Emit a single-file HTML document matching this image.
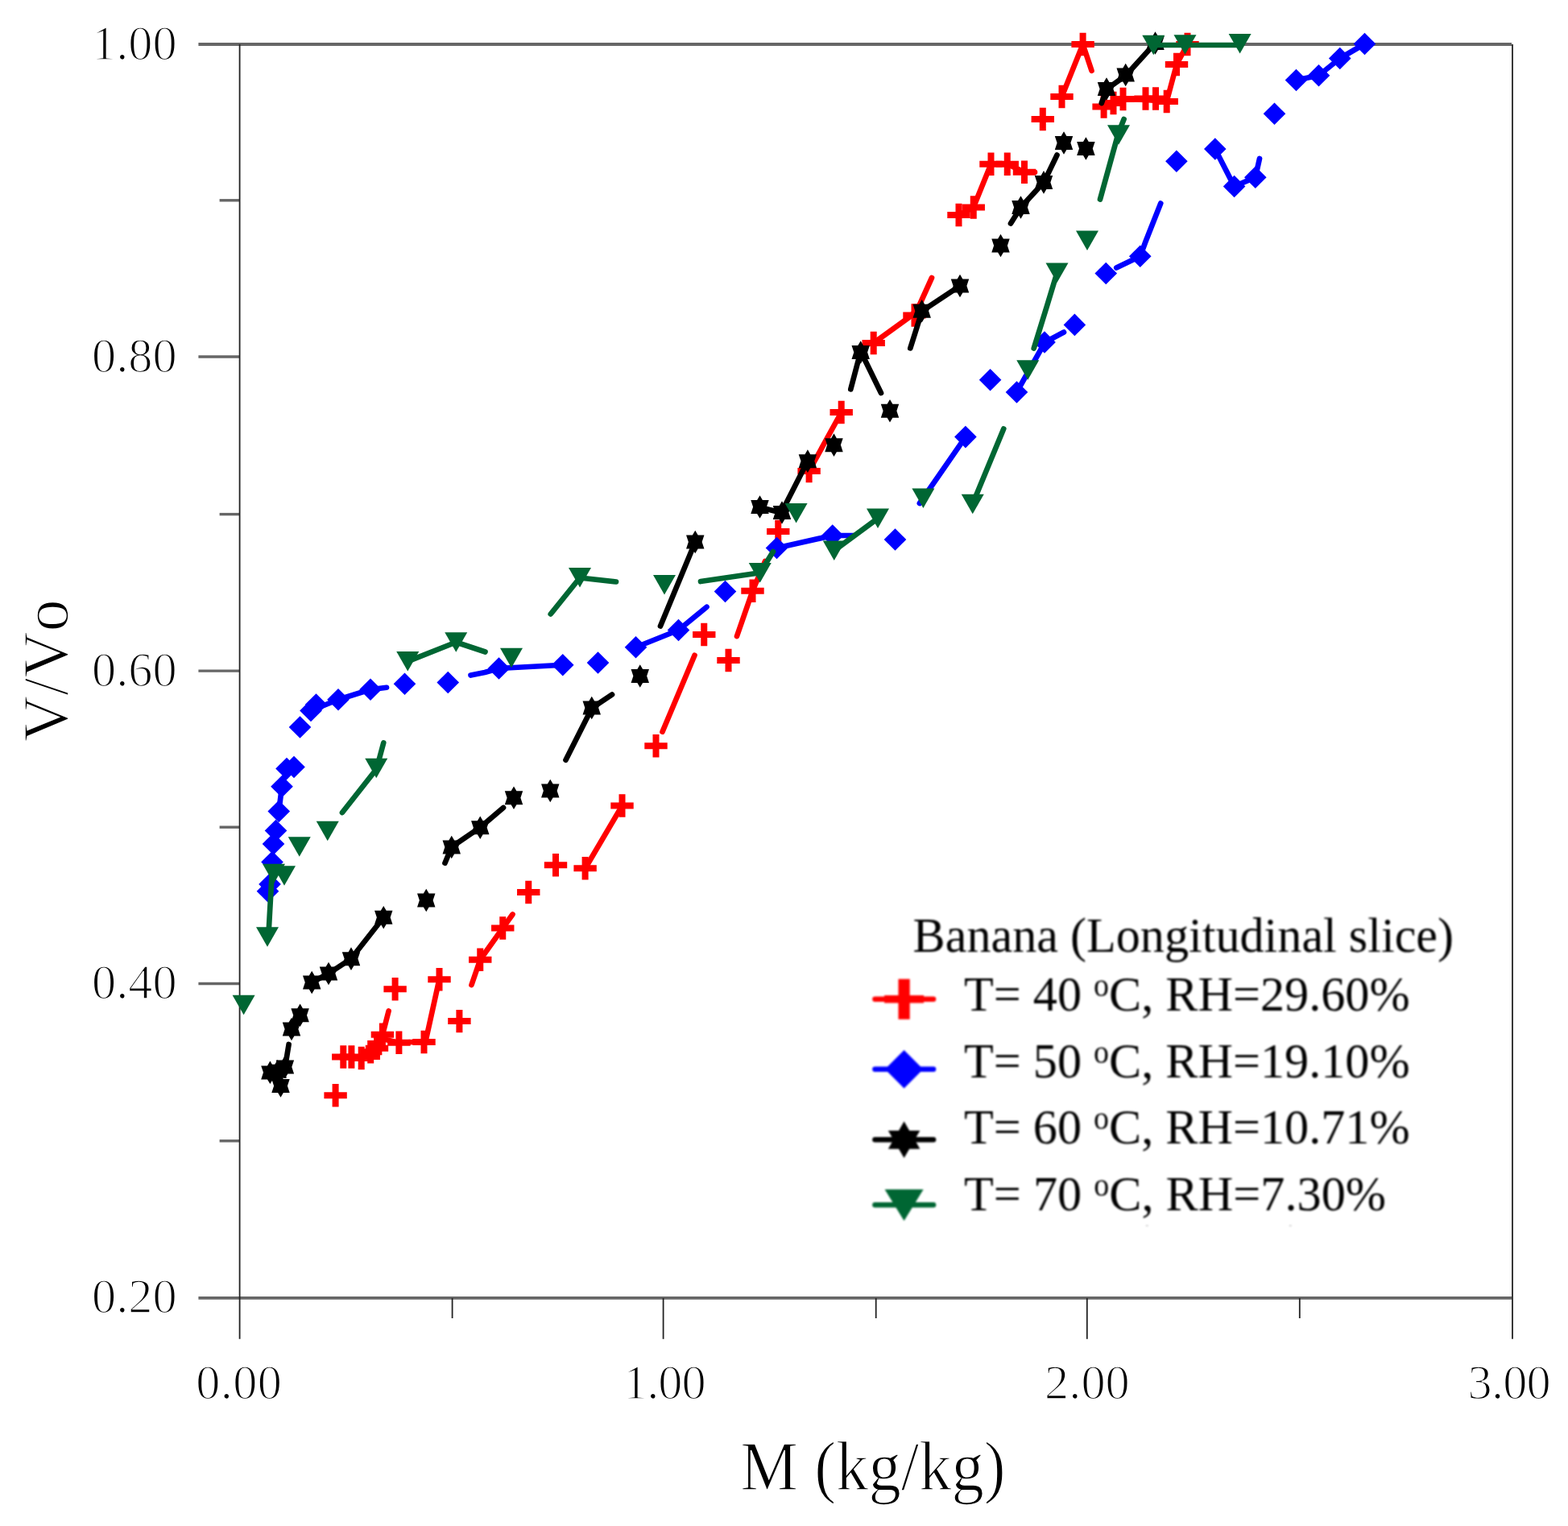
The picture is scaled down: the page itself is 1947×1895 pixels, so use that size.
<!DOCTYPE html>
<html lang="en"><head><meta charset="utf-8"><title>Banana (Longitudinal slice)</title>
<style>html,body{margin:0;padding:0;background:#fff}body{width:1947px;height:1895px;overflow:hidden}svg{display:block}text{font-family:"Liberation Serif","DejaVu Serif",serif;fill:#000}</style>
</head><body>
<svg width="1947" height="1895" viewBox="0 0 1947 1895">
<rect width="1947" height="1895" fill="#fff"/>
<g id="axes" fill="none">
<line x1="246.4" y1="55" x2="1877" y2="55" stroke="#666666" stroke-width="4"/>
<line x1="246.4" y1="1611.8" x2="1877" y2="1611.8" stroke="#666666" stroke-width="3.7"/>
<line x1="246.4" y1="443" x2="297" y2="443" stroke="#666666" stroke-width="3.4"/>
<line x1="246.4" y1="833.1" x2="297" y2="833.1" stroke="#666666" stroke-width="3.4"/>
<line x1="246.4" y1="1221.5" x2="297" y2="1221.5" stroke="#666666" stroke-width="3.4"/>
<line x1="272.6" y1="248.8" x2="297" y2="248.8" stroke="#666666" stroke-width="3.4"/>
<line x1="272.6" y1="638.6" x2="297" y2="638.6" stroke="#666666" stroke-width="3.4"/>
<line x1="272.6" y1="1027.2" x2="297" y2="1027.2" stroke="#666666" stroke-width="3.4"/>
<line x1="272.6" y1="1416.8" x2="297" y2="1416.8" stroke="#666666" stroke-width="3.4"/>
<line x1="297.6" y1="55" x2="297.6" y2="1662.8" stroke="#222222" stroke-width="1.8"/>
<line x1="1878" y1="55" x2="1878" y2="1662.8" stroke="#222222" stroke-width="1.8"/>
<line x1="823.6" y1="1612" x2="823.6" y2="1662.8" stroke="#222222" stroke-width="1.8"/>
<line x1="1349.8" y1="1612" x2="1349.8" y2="1662.8" stroke="#222222" stroke-width="1.8"/>
<line x1="561.6" y1="1612" x2="561.6" y2="1637" stroke="#222222" stroke-width="1.8"/>
<line x1="1087.7" y1="1612" x2="1087.7" y2="1637" stroke="#222222" stroke-width="1.8"/>
<line x1="1613.8" y1="1612" x2="1613.8" y2="1637" stroke="#222222" stroke-width="1.8"/>
</g>
<g id="ticklabels" font-size="60.3" fill="#000" stroke="#fff" stroke-width="1.6">
<text x="219.6" y="73.5" text-anchor="end">1.00</text>
<text x="219.6" y="461.6" text-anchor="end">0.80</text>
<text x="219.6" y="851.7" text-anchor="end">0.60</text>
<text x="219.6" y="1240.1" text-anchor="end">0.40</text>
<text x="219.6" y="1630.4" text-anchor="end">0.20</text>
<text x="296.6" y="1737.2" text-anchor="middle" textLength="106.7">0.00</text>
<text x="825.3" y="1737.2" text-anchor="middle" textLength="102.5">1.00</text>
<text x="1349.9" y="1737.2" text-anchor="middle" textLength="105.7">2.00</text>
<text x="1874.1" y="1737.2" text-anchor="middle" textLength="103.1">3.00</text>
</g>
<text x="1084" y="1849.6" font-size="86" text-anchor="middle" textLength="329.4" lengthAdjust="spacingAndGlyphs" stroke="#fff" stroke-width="1.5">M (kg/kg)</text>
<text transform="translate(84 832.8) rotate(-90)" font-size="79.5" text-anchor="middle" style="font-kerning:none" stroke="#fff" stroke-width="1.6">V/Vo</text>
<g id="s40">
<g fill="none" stroke="#ff0000" stroke-width="6.7" stroke-linecap="round" stroke-linejoin="round">
<polyline points="426,1313 436.4,1313 448.7,1314 460,1306 468,1301 475,1285 482.6,1255.5"/>
<polyline points="475,1290 495.4,1295 528.5,1293 545.5,1216"/>
<polyline points="585.5,1223 596.25,1191.75 624.25,1152.5 636.5,1135.5"/>
<polyline points="726.75,1078.25 772.5,1000.5"/>
<polyline points="822.5,908.75 862.5,813.75"/>
<polyline points="915,790 934.5,733.75 950,697"/>
<polyline points="1044.7,512 1004.6,585"/>
<polyline points="1084.7,426 1131,392.5 1140,382.5 1157,345"/>
<polyline points="1190.5,267 1208.75,257.5 1230.5,203.75 1250.75,203.75 1272,213.75 1285,213.75"/>
<polyline points="1318.5,120 1344.6,55 1355.5,87.8"/>
<polyline points="1370.6,132.5 1394.5,123 1422.5,124 1448.7,126 1461,80 1474.5,55"/>
</g>
<path fill="#ff0000" d="M412.6 1346.1h8v10.2h10.2v8h-10.2v10.2h-8v-10.2h-10.2v-8h10.2z"/>
<path fill="#ff0000" d="M422.3 1298.3h8v10.2h10.2v8h-10.2v10.2h-8v-10.2h-10.2v-8h10.2z"/>
<path fill="#ff0000" d="M432.4 1298.3h8v10.2h10.2v8h-10.2v10.2h-8v-10.2h-10.2v-8h10.2z"/>
<path fill="#ff0000" d="M444.7 1299.8h8v10.2h10.2v8h-10.2v10.2h-8v-10.2h-10.2v-8h10.2z"/>
<path fill="#ff0000" d="M456.2 1292.1h8v10.2h10.2v8h-10.2v10.2h-8v-10.2h-10.2v-8h10.2z"/>
<path fill="#ff0000" d="M464 1287.5h8v10.2h10.2v8h-10.2v10.2h-8v-10.2h-10.2v-8h10.2z"/>
<path fill="#ff0000" d="M470.9 1270.6h8v10.2h10.2v8h-10.2v10.2h-8v-10.2h-10.2v-8h10.2z"/>
<path fill="#ff0000" d="M486.6 1214h8v10.2h10.2v8h-10.2v10.2h-8v-10.2h-10.2v-8h10.2z"/>
<path fill="#ff0000" d="M491.4 1280.6h8v10.2h10.2v8h-10.2v10.2h-8v-10.2h-10.2v-8h10.2z"/>
<path fill="#ff0000" d="M522.5 1279.8h8v10.2h10.2v8h-10.2v10.2h-8v-10.2h-10.2v-8h10.2z"/>
<path fill="#ff0000" d="M541.5 1202h8v10.2h10.2v8h-10.2v10.2h-8v-10.2h-10.2v-8h10.2z"/>
<path fill="#ff0000" d="M566.4 1253.9h8v10.2h10.2v8h-10.2v10.2h-8v-10.2h-10.2v-8h10.2z"/>
<path fill="#ff0000" d="M592.25 1177.55h8v10.2h10.2v8h-10.2v10.2h-8v-10.2h-10.2v-8h10.2z"/>
<path fill="#ff0000" d="M620.25 1138.3h8v10.2h10.2v8h-10.2v10.2h-8v-10.2h-10.2v-8h10.2z"/>
<path fill="#ff0000" d="M652.25 1093.8h8v10.2h10.2v8h-10.2v10.2h-8v-10.2h-10.2v-8h10.2z"/>
<path fill="#ff0000" d="M686 1060.05h8v10.2h10.2v8h-10.2v10.2h-8v-10.2h-10.2v-8h10.2z"/>
<path fill="#ff0000" d="M722.6 1064h8v10.2h10.2v8h-10.2v10.2h-8v-10.2h-10.2v-8h10.2z"/>
<path fill="#ff0000" d="M768.5 986.3h8v10.2h10.2v8h-10.2v10.2h-8v-10.2h-10.2v-8h10.2z"/>
<path fill="#ff0000" d="M810.5 912.05h8v10.2h10.2v8h-10.2v10.2h-8v-10.2h-10.2v-8h10.2z"/>
<path fill="#ff0000" d="M870.25 773.8h8v10.2h10.2v8h-10.2v10.2h-8v-10.2h-10.2v-8h10.2z"/>
<path fill="#ff0000" d="M900.5 805.8h8v10.2h10.2v8h-10.2v10.2h-8v-10.2h-10.2v-8h10.2z"/>
<path fill="#ff0000" d="M930.5 719.55h8v10.2h10.2v8h-10.2v10.2h-8v-10.2h-10.2v-8h10.2z"/>
<path fill="#ff0000" d="M962.25 645.8h8v10.2h10.2v8h-10.2v10.2h-8v-10.2h-10.2v-8h10.2z"/>
<path fill="#ff0000" d="M1000.6 570.8h8v10.2h10.2v8h-10.2v10.2h-8v-10.2h-10.2v-8h10.2z"/>
<path fill="#ff0000" d="M1040.7 497.8h8v10.2h10.2v8h-10.2v10.2h-8v-10.2h-10.2v-8h10.2z"/>
<path fill="#ff0000" d="M1080.7 411.8h8v10.2h10.2v8h-10.2v10.2h-8v-10.2h-10.2v-8h10.2z"/>
<path fill="#ff0000" d="M1131.5 377.3h8v10.2h10.2v8h-10.2v10.2h-8v-10.2h-10.2v-8h10.2z"/>
<path fill="#ff0000" d="M1186.5 252.8h8v10.2h10.2v8h-10.2v10.2h-8v-10.2h-10.2v-8h10.2z"/>
<path fill="#ff0000" d="M1204.75 243.3h8v10.2h10.2v8h-10.2v10.2h-8v-10.2h-10.2v-8h10.2z"/>
<path fill="#ff0000" d="M1226.5 189.55h8v10.2h10.2v8h-10.2v10.2h-8v-10.2h-10.2v-8h10.2z"/>
<path fill="#ff0000" d="M1246.75 189.55h8v10.2h10.2v8h-10.2v10.2h-8v-10.2h-10.2v-8h10.2z"/>
<path fill="#ff0000" d="M1268 199.55h8v10.2h10.2v8h-10.2v10.2h-8v-10.2h-10.2v-8h10.2z"/>
<path fill="#ff0000" d="M1290.8 133.8h8v10.2h10.2v8h-10.2v10.2h-8v-10.2h-10.2v-8h10.2z"/>
<path fill="#ff0000" d="M1314.5 105.8h8v10.2h10.2v8h-10.2v10.2h-8v-10.2h-10.2v-8h10.2z"/>
<path fill="#ff0000" d="M1340.6 40.8h8v10.2h10.2v8h-10.2v10.2h-8v-10.2h-10.2v-8h10.2z"/>
<path fill="#ff0000" d="M1366.6 118.3h8v10.2h10.2v8h-10.2v10.2h-8v-10.2h-10.2v-8h10.2z"/>
<path fill="#ff0000" d="M1378.5 113.8h8v10.2h10.2v8h-10.2v10.2h-8v-10.2h-10.2v-8h10.2z"/>
<path fill="#ff0000" d="M1390.5 108.8h8v10.2h10.2v8h-10.2v10.2h-8v-10.2h-10.2v-8h10.2z"/>
<path fill="#ff0000" d="M1418.5 108.3h8v10.2h10.2v8h-10.2v10.2h-8v-10.2h-10.2v-8h10.2z"/>
<path fill="#ff0000" d="M1431 108.3h8v10.2h10.2v8h-10.2v10.2h-8v-10.2h-10.2v-8h10.2z"/>
<path fill="#ff0000" d="M1444.7 111.8h8v10.2h10.2v8h-10.2v10.2h-8v-10.2h-10.2v-8h10.2z"/>
<path fill="#ff0000" d="M1457 65.8h8v10.2h10.2v8h-10.2v10.2h-8v-10.2h-10.2v-8h10.2z"/>
<path fill="#ff0000" d="M1470.5 40.8h8v10.2h10.2v8h-10.2v10.2h-8v-10.2h-10.2v-8h10.2z"/>
</g>
<g id="s50">
<g fill="none" stroke="#0000ff" stroke-width="6.7" stroke-linecap="round" stroke-linejoin="round">
<polyline points="356,954.5 350,977 346.25,1007.5"/>
<polyline points="386,882.5 420,868.75 460,856.25 480,853.75"/>
<polyline points="584.5,838.5 602,835 619.5,830 698.75,825.75"/>
<polyline points="789.5,803.75 842.5,782.5 877.5,753.75"/>
<polyline points="964.5,680.5 1033.75,665 1060,665"/>
<polyline points="1141.9,625 1198.9,542.6"/>
<polyline points="1262.5,487 1297.5,425 1321,412.5"/>
<polyline points="1386.25,332.5 1415.75,318.25 1422.5,300 1441.25,252.5"/>
<polyline points="1508.8,185 1532.6,231.5 1558.8,220.2 1564,197"/>
<polyline points="1609.5,99.5 1637.5,93.75 1663.75,72.5 1694.5,54.5"/>
</g>
<polygon fill="#0000ff" points="332.5,1092.95 346.3,1106.75 332.5,1120.55 318.7,1106.75"/>
<polygon fill="#0000ff" points="335,1084.2 348.8,1098 335,1111.8 321.2,1098"/>
<polygon fill="#0000ff" points="338,1056.7 351.8,1070.5 338,1084.3 324.2,1070.5"/>
<polygon fill="#0000ff" points="339.5,1034.2 353.3,1048 339.5,1061.8 325.7,1048"/>
<polygon fill="#0000ff" points="342.5,1017.7 356.3,1031.5 342.5,1045.3 328.7,1031.5"/>
<polygon fill="#0000ff" points="346.25,993.7 360.05,1007.5 346.25,1021.3 332.45,1007.5"/>
<polygon fill="#0000ff" points="350,962.95 363.8,976.75 350,990.55 336.2,976.75"/>
<polygon fill="#0000ff" points="356,940.7 369.8,954.5 356,968.3 342.2,954.5"/>
<polygon fill="#0000ff" points="365,938.7 378.8,952.5 365,966.3 351.2,952.5"/>
<polygon fill="#0000ff" points="372.5,889.2 386.3,903 372.5,916.8 358.7,903"/>
<polygon fill="#0000ff" points="386,868.7 399.8,882.5 386,896.3 372.2,882.5"/>
<polygon fill="#0000ff" points="392.5,861.2 406.3,875 392.5,888.8 378.7,875"/>
<polygon fill="#0000ff" points="420,854.95 433.8,868.75 420,882.55 406.2,868.75"/>
<polygon fill="#0000ff" points="460,842.45 473.8,856.25 460,870.05 446.2,856.25"/>
<polygon fill="#0000ff" points="502.5,835.45 516.3,849.25 502.5,863.05 488.7,849.25"/>
<polygon fill="#0000ff" points="556.25,833.7 570.05,847.5 556.25,861.3 542.45,847.5"/>
<polygon fill="#0000ff" points="619.5,816.2 633.3,830 619.5,843.8 605.7,830"/>
<polygon fill="#0000ff" points="698.75,811.95 712.55,825.75 698.75,839.55 684.95,825.75"/>
<polygon fill="#0000ff" points="742.5,809.2 756.3,823 742.5,836.8 728.7,823"/>
<polygon fill="#0000ff" points="789.5,789.95 803.3,803.75 789.5,817.55 775.7,803.75"/>
<polygon fill="#0000ff" points="842.5,768.7 856.3,782.5 842.5,796.3 828.7,782.5"/>
<polygon fill="#0000ff" points="900.5,720.7 914.3,734.5 900.5,748.3 886.7,734.5"/>
<polygon fill="#0000ff" points="964.5,666.7 978.3,680.5 964.5,694.3 950.7,680.5"/>
<polygon fill="#0000ff" points="1033.75,651.2 1047.55,665 1033.75,678.8 1019.95,665"/>
<polygon fill="#0000ff" points="1111.5,656.2 1125.3,670 1111.5,683.8 1097.7,670"/>
<polygon fill="#0000ff" points="1198.9,528.8 1212.7,542.6 1198.9,556.4 1185.1,542.6"/>
<polygon fill="#0000ff" points="1229.6,457.9 1243.4,471.7 1229.6,485.5 1215.8,471.7"/>
<polygon fill="#0000ff" points="1262.5,473.2 1276.3,487 1262.5,500.8 1248.7,487"/>
<polygon fill="#0000ff" points="1297,411.2 1310.8,425 1297,438.8 1283.2,425"/>
<polygon fill="#0000ff" points="1334.4,389.6 1348.2,403.4 1334.4,417.2 1320.6,403.4"/>
<polygon fill="#0000ff" points="1373.25,325.7 1387.05,339.5 1373.25,353.3 1359.45,339.5"/>
<polygon fill="#0000ff" points="1415.75,304.45 1429.55,318.25 1415.75,332.05 1401.95,318.25"/>
<polygon fill="#0000ff" points="1460.9,186.4 1474.7,200.2 1460.9,214 1447.1,200.2"/>
<polygon fill="#0000ff" points="1508.8,171.2 1522.6,185 1508.8,198.8 1495,185"/>
<polygon fill="#0000ff" points="1532.6,217.7 1546.4,231.5 1532.6,245.3 1518.8,231.5"/>
<polygon fill="#0000ff" points="1558.8,206.4 1572.6,220.2 1558.8,234 1545,220.2"/>
<polygon fill="#0000ff" points="1582.5,127.45 1596.3,141.25 1582.5,155.05 1568.7,141.25"/>
<polygon fill="#0000ff" points="1609.5,85.7 1623.3,99.5 1609.5,113.3 1595.7,99.5"/>
<polygon fill="#0000ff" points="1637.5,79.95 1651.3,93.75 1637.5,107.55 1623.7,93.75"/>
<polygon fill="#0000ff" points="1663.75,58.7 1677.55,72.5 1663.75,86.3 1649.95,72.5"/>
<polygon fill="#0000ff" points="1694.5,40.7 1708.3,54.5 1694.5,68.3 1680.7,54.5"/>
</g>
<g id="s60">
<g fill="none" stroke="#000000" stroke-width="6.7" stroke-linecap="round" stroke-linejoin="round">
<polyline points="353.9,1325.6 358.6,1297"/>
<polyline points="361.75,1278 372.5,1260.5"/>
<polyline points="387,1220 408,1209 436,1190.5 476.25,1139.25"/>
<polyline points="552.5,1071.75 560.75,1051.75 596.25,1027.5 625,1003"/>
<polyline points="702.5,943.75 735,879.25 760,862.5"/>
<polyline points="820,777.5 863.25,673"/>
<polyline points="943.75,630 971.25,637"/>
<polyline points="975.4,626.6 1002.9,572.6"/>
<polyline points="1056.3,483.3 1068.7,436.3 1094,488"/>
<polyline points="1130.3,432.4 1144.9,386.2 1192,355"/>
<polyline points="1255,277.5 1267.5,257.5 1296.25,226.25 1312.5,192.5"/>
<polyline points="1367.8,128 1374,110.9 1397.9,93.7 1434.9,53"/>
</g>
<polygon fill="#000000" points="335.4,1317.5 338.8,1323.4 346.6,1323.4 343.8,1331.8 346.6,1340.4 338.8,1340.4 335.4,1346.1 332,1340.4 324.2,1340.4 327,1331.8 324.2,1323.4 332,1323.4"/>
<polygon fill="#000000" points="344.7,1315.9 348.1,1321.8 355.9,1321.8 353.1,1330.2 355.9,1338.8 348.1,1338.8 344.7,1344.5 341.3,1338.8 333.5,1338.8 336.3,1330.2 333.5,1321.8 341.3,1321.8"/>
<polygon fill="#000000" points="348.5,1334.2 351.9,1340.1 359.7,1340.1 356.9,1348.5 359.7,1357.1 351.9,1357.1 348.5,1362.8 345.1,1357.1 337.3,1357.1 340.1,1348.5 337.3,1340.1 345.1,1340.1"/>
<polygon fill="#000000" points="353.9,1310.7 357.3,1316.6 365.1,1316.6 362.3,1325 365.1,1333.6 357.3,1333.6 353.9,1339.3 350.5,1333.6 342.7,1333.6 345.5,1325 342.7,1316.6 350.5,1316.6"/>
<polygon fill="#000000" points="362,1263.7 365.4,1269.6 373.2,1269.6 370.4,1278 373.2,1286.6 365.4,1286.6 362,1292.3 358.6,1286.6 350.8,1286.6 353.6,1278 350.8,1269.6 358.6,1269.6"/>
<polygon fill="#000000" points="372.6,1246.4 376,1252.3 383.8,1252.3 381,1260.7 383.8,1269.3 376,1269.3 372.6,1275 369.2,1269.3 361.4,1269.3 364.2,1260.7 361.4,1252.3 369.2,1252.3"/>
<polygon fill="#000000" points="387.2,1205.7 390.6,1211.6 398.4,1211.6 395.6,1220 398.4,1228.6 390.6,1228.6 387.2,1234.3 383.8,1228.6 376,1228.6 378.8,1220 376,1211.6 383.8,1211.6"/>
<polygon fill="#000000" points="408,1194.7 411.4,1200.6 419.2,1200.6 416.4,1209 419.2,1217.6 411.4,1217.6 408,1223.3 404.6,1217.6 396.8,1217.6 399.6,1209 396.8,1200.6 404.6,1200.6"/>
<polygon fill="#000000" points="436,1176.3 439.4,1182.2 447.2,1182.2 444.4,1190.6 447.2,1199.2 439.4,1199.2 436,1204.9 432.6,1199.2 424.8,1199.2 427.6,1190.6 424.8,1182.2 432.6,1182.2"/>
<polygon fill="#000000" points="476.25,1124.95 479.65,1130.85 487.45,1130.85 484.65,1139.25 487.45,1147.85 479.65,1147.85 476.25,1153.55 472.85,1147.85 465.05,1147.85 467.85,1139.25 465.05,1130.85 472.85,1130.85"/>
<polygon fill="#000000" points="529.25,1103.7 532.65,1109.6 540.45,1109.6 537.65,1118 540.45,1126.6 532.65,1126.6 529.25,1132.3 525.85,1126.6 518.05,1126.6 520.85,1118 518.05,1109.6 525.85,1109.6"/>
<polygon fill="#000000" points="560.75,1037.7 564.15,1043.6 571.95,1043.6 569.15,1052 571.95,1060.6 564.15,1060.6 560.75,1066.3 557.35,1060.6 549.55,1060.6 552.35,1052 549.55,1043.6 557.35,1043.6"/>
<polygon fill="#000000" points="596.25,1013.45 599.65,1019.35 607.45,1019.35 604.65,1027.75 607.45,1036.35 599.65,1036.35 596.25,1042.05 592.85,1036.35 585.05,1036.35 587.85,1027.75 585.05,1019.35 592.85,1019.35"/>
<polygon fill="#000000" points="638,976.45 641.4,982.35 649.2,982.35 646.4,990.75 649.2,999.35 641.4,999.35 638,1005.05 634.6,999.35 626.8,999.35 629.6,990.75 626.8,982.35 634.6,982.35"/>
<polygon fill="#000000" points="683.25,967.7 686.65,973.6 694.45,973.6 691.65,982 694.45,990.6 686.65,990.6 683.25,996.3 679.85,990.6 672.05,990.6 674.85,982 672.05,973.6 679.85,973.6"/>
<polygon fill="#000000" points="734.75,864.7 738.15,870.6 745.95,870.6 743.15,879 745.95,887.6 738.15,887.6 734.75,893.3 731.35,887.6 723.55,887.6 726.35,879 723.55,870.6 731.35,870.6"/>
<polygon fill="#000000" points="794.75,825.2 798.15,831.1 805.95,831.1 803.15,839.5 805.95,848.1 798.15,848.1 794.75,853.8 791.35,848.1 783.55,848.1 786.35,839.5 783.55,831.1 791.35,831.1"/>
<polygon fill="#000000" points="863.25,658.7 866.65,664.6 874.45,664.6 871.65,673 874.45,681.6 866.65,681.6 863.25,687.3 859.85,681.6 852.05,681.6 854.85,673 852.05,664.6 859.85,664.6"/>
<polygon fill="#000000" points="943.5,615.2 946.9,621.1 954.7,621.1 951.9,629.5 954.7,638.1 946.9,638.1 943.5,643.8 940.1,638.1 932.3,638.1 935.1,629.5 932.3,621.1 940.1,621.1"/>
<polygon fill="#000000" points="971,622.2 974.4,628.1 982.2,628.1 979.4,636.5 982.2,645.1 974.4,645.1 971,650.8 967.6,645.1 959.8,645.1 962.6,636.5 959.8,628.1 967.6,628.1"/>
<polygon fill="#000000" points="1002.9,558.3 1006.3,564.2 1014.1,564.2 1011.3,572.6 1014.1,581.2 1006.3,581.2 1002.9,586.9 999.5,581.2 991.7,581.2 994.5,572.6 991.7,564.2 999.5,564.2"/>
<polygon fill="#000000" points="1035.5,538.3 1038.9,544.2 1046.7,544.2 1043.9,552.6 1046.7,561.2 1038.9,561.2 1035.5,566.9 1032.1,561.2 1024.3,561.2 1027.1,552.6 1024.3,544.2 1032.1,544.2"/>
<polygon fill="#000000" points="1068.7,423.2 1072.1,429.1 1079.9,429.1 1077.1,437.5 1079.9,446.1 1072.1,446.1 1068.7,451.8 1065.3,446.1 1057.5,446.1 1060.3,437.5 1057.5,429.1 1065.3,429.1"/>
<polygon fill="#000000" points="1105,495.9 1108.4,501.8 1116.2,501.8 1113.4,510.2 1116.2,518.8 1108.4,518.8 1105,524.5 1101.6,518.8 1093.8,518.8 1096.6,510.2 1093.8,501.8 1101.6,501.8"/>
<polygon fill="#000000" points="1144.7,371.9 1148.1,377.8 1155.9,377.8 1153.1,386.2 1155.9,394.8 1148.1,394.8 1144.7,400.5 1141.3,394.8 1133.5,394.8 1136.3,386.2 1133.5,377.8 1141.3,377.8"/>
<polygon fill="#000000" points="1192,340.7 1195.4,346.6 1203.2,346.6 1200.4,355 1203.2,363.6 1195.4,363.6 1192,369.3 1188.6,363.6 1180.8,363.6 1183.6,355 1180.8,346.6 1188.6,346.6"/>
<polygon fill="#000000" points="1242.5,290.7 1245.9,296.6 1253.7,296.6 1250.9,305 1253.7,313.6 1245.9,313.6 1242.5,319.3 1239.1,313.6 1231.3,313.6 1234.1,305 1231.3,296.6 1239.1,296.6"/>
<polygon fill="#000000" points="1267.5,243.2 1270.9,249.1 1278.7,249.1 1275.9,257.5 1278.7,266.1 1270.9,266.1 1267.5,271.8 1264.1,266.1 1256.3,266.1 1259.1,257.5 1256.3,249.1 1264.1,249.1"/>
<polygon fill="#000000" points="1296,212.1 1299.4,218 1307.2,218 1304.4,226.4 1307.2,235 1299.4,235 1296,240.7 1292.6,235 1284.8,235 1287.6,226.4 1284.8,218 1292.6,218"/>
<polygon fill="#000000" points="1321,163.2 1324.4,169.1 1332.2,169.1 1329.4,177.5 1332.2,186.1 1324.4,186.1 1321,191.8 1317.6,186.1 1309.8,186.1 1312.6,177.5 1309.8,169.1 1317.6,169.1"/>
<polygon fill="#000000" points="1348.4,170.2 1351.8,176.1 1359.6,176.1 1356.8,184.5 1359.6,193.1 1351.8,193.1 1348.4,198.8 1345,193.1 1337.2,193.1 1340,184.5 1337.2,176.1 1345,176.1"/>
<polygon fill="#000000" points="1374,96.2 1377.4,102.1 1385.2,102.1 1382.4,110.5 1385.2,119.1 1377.4,119.1 1374,124.8 1370.6,119.1 1362.8,119.1 1365.6,110.5 1362.8,102.1 1370.6,102.1"/>
<polygon fill="#000000" points="1397.7,78.7 1401.1,84.6 1408.9,84.6 1406.1,93 1408.9,101.6 1401.1,101.6 1397.7,107.3 1394.3,101.6 1386.5,101.6 1389.3,93 1386.5,84.6 1394.3,84.6"/>
<polygon fill="#000000" points="1434.5,39.2 1437.9,45.1 1445.7,45.1 1442.9,53.5 1445.7,62.1 1437.9,62.1 1434.5,67.8 1431.1,62.1 1423.3,62.1 1426.1,53.5 1423.3,45.1 1431.1,45.1"/>
</g>
<g id="s70">
<g fill="none" stroke="#006633" stroke-width="6.7" stroke-linecap="round" stroke-linejoin="round">
<polyline points="337.5,1088 333.75,1155"/>
<polyline points="425,1009 467.5,955 476.25,922.5"/>
<polyline points="506.25,821.25 566.25,797.5 602.5,809.5"/>
<polyline points="683.75,762.5 720,717.5 765,722.5"/>
<polyline points="870,722 943.75,711.25 960,685"/>
<polyline points="1035.75,683.75 1090,643.75"/>
<polyline points="1207.5,626.25 1246.25,532.5"/>
<polyline points="1283.75,432.5 1300,380 1312.5,338.75"/>
<polyline points="1366,247.5 1388.75,165 1395.6,148"/>
<polyline points="1432,56 1471.5,56 1539.6,56"/>
</g>
<polygon fill="#006633" points="288.6,1235.75 316.6,1235.75 302.6,1260.25"/>
<polygon fill="#006633" points="318,1151.25 346,1151.25 332,1175.75"/>
<polygon fill="#006633" points="326,1072.75 354,1072.75 340,1097.25"/>
<polygon fill="#006633" points="339,1075.25 367,1075.25 353,1099.75"/>
<polygon fill="#006633" points="357.75,1039.25 385.75,1039.25 371.75,1063.75"/>
<polygon fill="#006633" points="392.75,1019.75 420.75,1019.75 406.75,1044.25"/>
<polygon fill="#006633" points="453.25,941.75 481.25,941.75 467.25,966.25"/>
<polygon fill="#006633" points="492.25,809 520.25,809 506.25,833.5"/>
<polygon fill="#006633" points="552.25,785.25 580.25,785.25 566.25,809.75"/>
<polygon fill="#006633" points="621,804.75 649,804.75 635,829.25"/>
<polygon fill="#006633" points="706,705 734,705 720,729.5"/>
<polygon fill="#006633" points="811,714 839,714 825,738.5"/>
<polygon fill="#006633" points="929.75,699 957.75,699 943.75,723.5"/>
<polygon fill="#006633" points="974.6,624.95 1002.6,624.95 988.6,649.45"/>
<polygon fill="#006633" points="1021.75,671.5 1049.75,671.5 1035.75,696"/>
<polygon fill="#006633" points="1076,631.5 1104,631.5 1090,656"/>
<polygon fill="#006633" points="1132.4,606.55 1160.4,606.55 1146.4,631.05"/>
<polygon fill="#006633" points="1193.75,613.75 1221.75,613.75 1207.75,638.25"/>
<polygon fill="#006633" points="1262.25,447.25 1290.25,447.25 1276.25,471.75"/>
<polygon fill="#006633" points="1298.5,326.5 1326.5,326.5 1312.5,351"/>
<polygon fill="#006633" points="1336,286.5 1364,286.5 1350,311"/>
<polygon fill="#006633" points="1375,155.25 1403,155.25 1389,179.75"/>
<polygon fill="#006633" points="1418.3,43.75 1446.3,43.75 1432.3,68.25"/>
<polygon fill="#006633" points="1457.5,43.25 1485.5,43.25 1471.5,67.75"/>
<polygon fill="#006633" points="1525.6,41.95 1553.6,41.95 1539.6,66.45"/>
</g>
<g id="legend" style="filter:blur(0.9px)">
<text x="1133.6" y="1182.3" font-size="61" textLength="671.5" lengthAdjust="spacingAndGlyphs">Banana (Longitudinal slice)</text>
<line x1="1086.5" y1="1240.8" x2="1159" y2="1240.8" stroke="#ff0000" stroke-width="6.6" stroke-linecap="round"/>
<path fill="#ff0000" d="M1098.1 1236h49v9.6h-49z M1115.5 1215.8h14.2v50h-14.2z"/>
<text x="1197" y="1255.3" font-size="62" textLength="553.6" lengthAdjust="spacingAndGlyphs" xml:space="preserve">T= 40 <tspan font-size="39" dy="-18">o</tspan><tspan dy="18">C, RH=29.60%</tspan></text>
<line x1="1086.5" y1="1327.8" x2="1159" y2="1327.8" stroke="#0000ff" stroke-width="6.6" stroke-linecap="round"/>
<polygon fill="#0000ff" points="1122.6,1304.1 1146.3,1327.8 1122.6,1351.5 1098.9,1327.8"/>
<text x="1197" y="1337.5" font-size="62" textLength="553.6" lengthAdjust="spacingAndGlyphs" xml:space="preserve">T= 50 <tspan font-size="39" dy="-18">o</tspan><tspan dy="18">C, RH=19.10%</tspan></text>
<line x1="1086.5" y1="1415.3" x2="1159" y2="1415.3" stroke="#000000" stroke-width="6.6" stroke-linecap="round"/>
<polygon fill="#000000" points="1122.6,1392.5 1129.18,1403.9 1142.35,1403.9 1135.76,1415.3 1142.35,1426.7 1129.18,1426.7 1122.6,1438.1 1116.02,1426.7 1102.85,1426.7 1109.44,1415.3 1102.85,1403.9 1116.02,1403.9"/>
<text x="1197" y="1419.6" font-size="62" textLength="553.6" lengthAdjust="spacingAndGlyphs" xml:space="preserve">T= 60 <tspan font-size="39" dy="-18">o</tspan><tspan dy="18">C, RH=10.71%</tspan></text>
<line x1="1086.5" y1="1496.2" x2="1159" y2="1496.2" stroke="#006633" stroke-width="6.6" stroke-linecap="round"/>
<polygon fill="#006633" points="1098.6,1476.9 1146.6,1476.9 1122.6,1515.9"/>
<text x="1197" y="1502.6" font-size="62" textLength="524" lengthAdjust="spacingAndGlyphs" xml:space="preserve">T= 70 <tspan font-size="39" dy="-18">o</tspan><tspan dy="18">C, RH=7.30%</tspan></text>
<rect x="1422.8" y="1521.3" width="3" height="1.6" fill="#cfcfcf"/>
<rect x="1600.8" y="1521.3" width="3" height="1.6" fill="#cfcfcf"/>
</g>
</svg>
</body></html>
